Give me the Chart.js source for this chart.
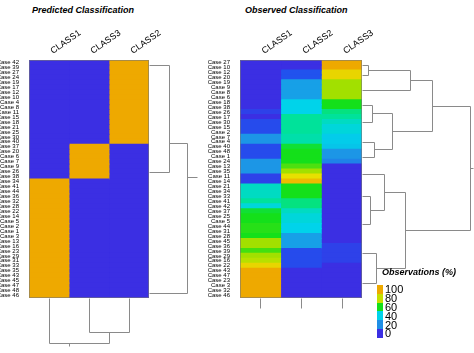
<!DOCTYPE html>
<html>
<head>
<meta charset="utf-8">
<script src="https://cdn.jsdelivr.net/npm/chart.js@4.4.1/dist/chart.umd.min.js"></script>
<style>
  body { margin: 0; background: #fff; width: 474px; height: 353px; position: relative; overflow: hidden; font-family: "Liberation Sans", Arial, sans-serif; }
  canvas { position: absolute; top: 0; }
  #leftWrap { position: absolute; left: 0; top: 0; width: 205px; height: 353px; }
  #rightWrap { position: absolute; left: 205px; top: 0; width: 269px; height: 353px; }
  .ttl { position: absolute; font-weight: bold; font-style: italic; font-size: 9px; color: #000; white-space: nowrap; }
  #legend { position: absolute; left: 377px; top: 267px; }
  #legend .head { font-weight: bold; font-style: italic; font-size: 9px; margin-left: 5px; margin-bottom: 8px; white-space: nowrap; }
  #legend .item { display: flex; align-items: center; height: 8.8px; }
  #legend .sw { width: 6px; height: 8.8px; }
  #legend .lb { font-size: 11px; line-height: 8px; margin-left: 2px; }
</style>
</head>
<body>
<div class="ttl" style="left:32px; top:5px;">Predicted Classification</div>
<div class="ttl" style="left:245px; top:5px;">Observed Classification</div>
<div id="leftWrap"><canvas id="leftChart"></canvas></div>
<div id="rightWrap"><canvas id="rightChart"></canvas></div>
<div id="legend"></div>
<script>
// ---- data ----
const leftColumns = ["CLASS1", "CLASS3", "CLASS2"];
const leftCases = [
  "Case 42", "Case 39", "Case 27", "Case 24", "Case 19", "Case 17", "Case 12", "Case 10",
  "Case 4", "Case 8", "Case 11", "Case 15", "Case 18", "Case 21", "Case 25", "Case 30",
  "Case 40", "Case 37", "Case 20", "Case 6", "Case 7", "Case 9", "Case 26", "Case 38",
  "Case 34", "Case 41", "Case 44", "Case 36", "Case 32", "Case 28", "Case 22", "Case 14",
  "Case 5", "Case 2", "Case 1", "Case 3", "Case 13", "Case 16", "Case 23", "Case 29",
  "Case 31", "Case 33", "Case 35", "Case 43", "Case 45", "Case 47", "Case 48", "Case 46"
];
const leftPredicted = [
  "CLASS2", "CLASS2", "CLASS2", "CLASS2", "CLASS2", "CLASS2", "CLASS2", "CLASS2",
  "CLASS2", "CLASS2", "CLASS2", "CLASS2", "CLASS2", "CLASS2", "CLASS2", "CLASS2",
  "CLASS2", "CLASS3", "CLASS3", "CLASS3", "CLASS3", "CLASS3", "CLASS3", "CLASS3",
  "CLASS1", "CLASS1", "CLASS1", "CLASS1", "CLASS1", "CLASS1", "CLASS1", "CLASS1",
  "CLASS1", "CLASS1", "CLASS1", "CLASS1", "CLASS1", "CLASS1", "CLASS1", "CLASS1",
  "CLASS1", "CLASS1", "CLASS1", "CLASS1", "CLASS1", "CLASS1", "CLASS1", "CLASS1"
];

const rightColumns = ["CLASS1", "CLASS2", "CLASS3"];
const rightCases = [
  "Case 27", "Case 10", "Case 12", "Case 20", "Case 19", "Case 9", "Case 8", "Case 6",
  "Case 18", "Case 38", "Case 26", "Case 17", "Case 30", "Case 15", "Case 2", "Case 7",
  "Case 4", "Case 40", "Case 48", "Case 1", "Case 24", "Case 13", "Case 35", "Case 11",
  "Case 14", "Case 21", "Case 34", "Case 33", "Case 41", "Case 42", "Case 37", "Case 25",
  "Case 5", "Case 44", "Case 31", "Case 28", "Case 45", "Case 36", "Case 39", "Case 29",
  "Case 16", "Case 22", "Case 43", "Case 47", "Case 23", "Case 3", "Case 32", "Case 46"
];
const obsClass1 = [
  0, 0, 0, 0, 0, 0, 0, 0, 0, 0, 5, 0, 8, 8, 8, 22,
  22, 8, 8, 8, 22, 22, 22, 5, 5, 45, 45, 45, 50, 42, 58, 60,
  60, 62, 62, 60, 75, 75, 65, 75, 78, 88, 100, 100, 100, 100, 100, 100
];
const obsClass2 = [
  0, 0, 10, 10, 25, 25, 25, 25, 40, 40, 40, 50, 50, 50, 50, 48,
  48, 58, 60, 60, 60, 66, 75, 85, 95, 60, 60, 60, 52, 52, 45, 42,
  42, 40, 40, 25, 25, 25, 8, 8, 8, 8, 0, 0, 0, 0, 0, 0
];
const obsClass3 = [
  100, 100, 88, 88, 75, 75, 75, 75, 60, 60, 52, 50, 45, 42, 42, 38,
  38, 36, 22, 22, 18, 0, 0, 0, 0, 0, 0, 0, 0, 0, 0, 0,
  0, 0, 0, 0, 0, 5, 5, 5, 5, 0, 0, 0, 0, 0, 0, 0
];
const legendTicks = [100, 80, 60, 40, 20, 0];

// dendrograms: leaves are {at: row/col position}, nodes {l, r, h, at?}
const leftRowTree = { l: { l: { at: 0.5 }, r: { at: 22.1 }, h: 20, at: 16.2 }, r: { at: 46.5 }, h: 38, at: 23.1 };
const leftColTree = { l: { at: 0 }, r: { l: { at: 1 }, r: { at: 2 }, h: 34 }, h: 45, at: 0.5 };
const rightRowTree = {
  l: {
    l: { l: { l: { at: 0.5 }, r: { at: 2.5 }, h: 6 }, r: { at: 5.5 }, h: 48 },
    r: { l: { l: { at: 8.5 }, r: { at: 12 }, h: 10 }, r: { l: { at: 16 }, r: { at: 19 }, h: 12 }, h: 30 },
    h: 70
  },
  r: {
    l: { l: { at: 22.5 }, r: { l: { at: 27 }, r: { at: 32.5 }, h: 8 }, h: 22 },
    r: { l: { at: 38.5 }, r: { at: 44.5 }, h: 14 },
    h: 43
  },
  h: 108
};

// ---- colours ----
const colorStops = [
  [0, [59, 47, 227]], [10, [33, 82, 238]], [20, [31, 143, 230]], [40, [0, 211, 234]],
  [50, [0, 226, 154]], [60, [20, 224, 26]], [75, [162, 224, 0]], [85, [231, 224, 0]], [100, [238, 169, 0]]
];
function heatColor(v) {
  for (let i = 1; i < colorStops.length; i++) {
    const [v1, c1] = colorStops[i];
    const [v0, c0] = colorStops[i - 1];
    if (v <= v1) {
      const t = (v - v0) / (v1 - v0);
      const c = c0.map((x, k) => Math.round(x + (c1[k] - x) * t));
      return "rgb(" + c.join(",") + ")";
    }
  }
  return "rgb(238,169,0)";
}

// ---- dendrogram + column label plugin ----
const dendroPlugin = {
  id: "dendro",
  afterDraw(chart, args, opts) {
    const { ctx, chartArea: a, scales } = chart;
    ctx.save();
    ctx.strokeStyle = "#8a8a8a";
    ctx.lineWidth = 1;
    const line = (p, q) => {
      ctx.beginPath();
      ctx.moveTo(Math.round(p[0]) + 0.5, Math.round(p[1]) + 0.5);
      ctx.lineTo(Math.round(q[0]) + 0.5, Math.round(q[1]) + 0.5);
      ctx.stroke();
    };
    const walk = (node, pt) => {
      if (!node.l) return { p: node.at, h: 0 };
      const a1 = walk(node.l, pt), b1 = walk(node.r, pt);
      [a1, b1].forEach((c) => line(pt(c.h, c.p), pt(node.h, c.p)));
      line(pt(node.h, a1.p), pt(node.h, b1.p));
      return { p: node.at !== undefined ? node.at : (a1.p + b1.p) / 2, h: node.h };
    };
    const rowPt = (h, p) => [a.right + h, scales.y.getPixelForValue(p)];
    const colPt = (h, p) => [scales.x.getPixelForValue(p + 0.5), a.bottom + h];
    if (opts.rowTree) {
      const r = walk(opts.rowTree, rowPt);
      line(rowPt(r.h, r.p), rowPt(r.h + opts.rowStub, r.p));
    }
    if (opts.colTree) {
      const r = walk(opts.colTree, colPt);
      line(colPt(r.h, r.p), colPt(r.h + opts.colStub, r.p));
    }
    if (opts.colTicks) {
      for (let i = 0; i < 3; i++) line(colPt(0, i), colPt(opts.colTicks, i));
    }
    // thin frame round the heatmap
    ctx.strokeStyle = "rgba(120,120,120,0.6)";
    ctx.strokeRect(a.left + 0.5, a.top + 0.5, a.right - a.left - 1, a.bottom - a.top - 1);

    // slanted column names above the heatmap
    ctx.fillStyle = "#000";
    ctx.font = "9px 'Liberation Sans'";
    ctx.textAlign = "left";
    ctx.textBaseline = "alphabetic";
    opts.columns.forEach((name, i) => {
      ctx.save();
      ctx.translate(scales.x.getPixelForValue(i + 0.5) + 4, a.top - 6);
      ctx.rotate(-35 * Math.PI / 180);
      ctx.fillText(name, 0, 0);
      ctx.restore();
    });
    ctx.restore();
  }
};

function heatmap(canvasId, cases, columns, values, yWidth, padRight, dendro) {
  // each column is one dataset of floating bars; a hair of overlap hides seams
  const datasets = columns.map((name, c) => ({
    label: name,
    data: cases.map(() => [c - 0.01, c + 1.01]),
    backgroundColor: values[c].map(heatColor),
    borderWidth: 0,
    inflateAmount: 0,
    barThickness: 6,
    grouped: false
  }));
  return new Chart(document.getElementById(canvasId), {
    type: "bar",
    data: { labels: cases, datasets },
    options: {
      indexAxis: "y",
      responsive: true,
      maintainAspectRatio: false,
      animation: false,
      layout: { padding: { top: 0, right: padRight, bottom: 55, left: 0 } },
      plugins: { legend: { display: false }, tooltip: { enabled: false }, dendro: Object.assign({ columns }, dendro) },
      scales: {
        x: {
          type: "linear",
          position: "top",
          min: 0,
          max: 3,
          grid: { display: false },
          border: { display: false },
          ticks: { display: false },
          afterFit: (s) => { s.height = 60; s.paddingLeft = 0; s.paddingRight = 0; }
        },
        y: {
          grid: { display: false },
          border: { display: false },
          afterFit: (s) => { s.width = yWidth; },
          ticks: {
            autoSkip: false,
            padding: 2,
            color: "#000",
            font: { family: "Liberation Sans", size: 6 }
          }
        }
      }
    },
    plugins: [dendroPlugin]
  });
}

const leftValues = leftColumns.map((col) => leftPredicted.map((p) => (p === col ? 100 : 0)));
heatmap("leftChart", leftCases, leftColumns, leftValues, 29, 56,
  { rowTree: leftRowTree, rowStub: 10, colTree: leftColTree, colStub: 3 });
heatmap("rightChart", rightCases, rightColumns, [obsClass1, obsClass2, obsClass3], 35, 112,
  { rowTree: rightRowTree, rowStub: 3, colTicks: 10 });

// ---- legend ----
const legend = document.getElementById("legend");
legend.innerHTML = '<div class="head">Observations (%)</div>' +
  legendTicks.map((v) => '<div class="item"><div class="sw" style="background:' + heatColor(v) +
    '"></div><div class="lb">' + v + '</div></div>').join("");
</script>
</body>
</html>
